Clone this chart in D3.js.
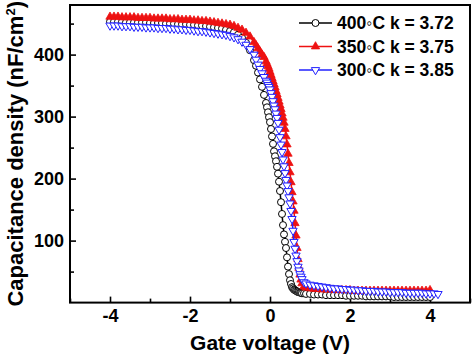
<!DOCTYPE html>
<html>
<head>
<meta charset="utf-8">
<script src="https://cdn.jsdelivr.net/npm/d3@7"></script>
<style>
  body { margin: 0; background: #fff; }
  svg { display: block; font-family: "Liberation Sans", Arial, sans-serif; font-weight: bold; }
</style>
</head>
<body>
<div id="chart"></div>
<script>
// gate voltage grid (V), finer through the transition
var voltage = [-4.0,-3.9,-3.8,-3.7,-3.6,-3.5,-3.4,-3.3,-3.2,-3.1,-3.0,-2.9,-2.8,-2.7,-2.6,-2.5,-2.4,-2.3,-2.2,-2.1,
  -2.0,-1.9,-1.8,-1.7,-1.6,-1.5,-1.4,-1.3,-1.2,-1.1,-1.0,-0.9,-0.8,-0.7,-0.6,-0.5,-0.4,
  -0.35,-0.3,-0.25,-0.2,-0.15,-0.1,
  -0.075,-0.05,-0.025,0,0.025,0.05,0.075,0.1,0.125,0.15,
  0.175,0.2,0.225,0.25,0.275,0.3,0.325,0.35,0.375,0.4,
  0.425,0.45,0.475,0.5,0.525,0.55,0.575,0.6,0.625,0.65,
  0.675,0.7,0.725,0.75,0.775,0.8,0.85,0.9,
  1.0,1.1,1.2,1.3,1.4,1.5,1.6,1.7,1.8,1.9,2.0,2.1,2.2,2.3,2.4,2.5,2.6,2.7,2.8,2.9,3.0,3.1,3.2,3.3,3.4,3.5,3.6,3.7,3.8,3.9,4.0];

// capacitance density (nF/cm2) for each anneal temperature
var cap400 = [453,453,453,453,452,452,452,452,452,452,451,451,451,451,450,450,450,449,449,449,
  448,448,447,447,446,445,444,443,442,440,438,436,432,427,419,407,391,
  382,371,360,348,335,322,
  315,307,299,291,280,268,256,244,236,228,
  219,208,195,180,162,143,125,110,98,88,
  73,58,46,36,30,25,23,21,20,19,
  18,17,17,16,16,15,15,14,
  14,13,13,13,12,12,12,12,12,11,11,11,11,11,10,10,10,10,10,10,10,9,9,9,9,9,9,9,9,9,9];
var cap350 = [461,461,461,460,460,460,460,459,459,459,459,458,458,458,458,457,457,457,456,456,
  456,455,455,454,454,453,452,451,450,449,448,446,443,440,435,429,420,
  415,410,405,400,396,389,
  385,381,377,372,367,362,357,352,347,341,
  336,330,324,318,312,305,298,290,280,268,
  255,240,225,210,194,178,163,148,128,108,
  88,70,56,45,37,31,26,24,
  23,22,22,21,21,21,20,20,20,20,20,19,19,19,19,19,19,19,19,19,19,19,19,19,19,19,19,19,19,19,20];
var cap300 = [447,447,447,446,446,446,445,445,445,444,444,444,443,443,443,442,442,441,441,440,
  440,439,438,438,437,436,435,434,433,432,430,428,425,421,416,409,400,
  392,384,377,370,364,358,
  355,351,348,344,338,332,325,318,312,305,
  298,290,279,267,255,243,231,220,209,198,
  189,180,170,160,148,135,116,98,87,76,
  67,58,52,46,42,38,33,31,
  29,28,27,26,25,24,23,23,22,22,21,21,20,20,19,19,19,18,18,18,17,17,17,17,16,16,16,16,16,15,15];
// the 300 C sweep runs a little further
var voltage300Extra = [4.1, 4.2];
var cap300Extra = [15, 14];

var legendLabels = ["400\u25E6C k = 3.72", "350\u25E6C k = 3.75", "300\u25E6C k = 3.85"];
var xTicks = [-4, -2, 0, 2, 4];
var xMinor = [-5, -3, -1, 1, 3, 5];
var yTicks = [100, 200, 300, 400];
var yMinor = [50, 150, 250, 350, 450];

var svgWidth = 474, svgHeight = 358;
var margin = {top: 5, right: 4, bottom: 55.4, left: 70};
var width = svgWidth - margin.left - margin.right;
var height = svgHeight - margin.top - margin.bottom;

var svg = d3.select("#chart").append("svg")
  .attr("width", svgWidth)
  .attr("height", svgHeight);

var g = svg.append("g")
  .attr("transform", `translate(${margin.left}, ${margin.top})`);

var x = d3.scaleLinear().domain([-5, 5]).range([0, width]);
var y = d3.scaleLinear().domain([0, 480]).range([height, 0]);

// axes, ticks pointing inward
g.append("g")
  .attr("transform", `translate(0, ${height})`)
  .call(d3.axisBottom(x).tickValues(xMinor).tickSize(-4).tickSizeOuter(0).tickFormat(""))
  .call(a => a.select(".domain").remove());
g.append("g")
  .attr("transform", `translate(0, ${height})`)
  .call(d3.axisBottom(x).tickValues(xTicks).tickSize(-6).tickSizeOuter(0).tickPadding(7)
    .tickFormat(d => String(d)))
  .call(a => a.select(".domain").remove());
g.append("g")
  .call(d3.axisLeft(y).tickValues(yMinor).tickSize(-4).tickSizeOuter(0).tickFormat(""))
  .call(a => a.select(".domain").remove());
g.append("g")
  .call(d3.axisLeft(y).tickValues(yTicks).tickSize(-6).tickSizeOuter(0).tickPadding(6))
  .call(a => a.select(".domain").remove());

g.selectAll(".tick line").attr("stroke", "#000").attr("stroke-width", 1.6);
g.selectAll(".tick text")
  .attr("font-family", "Liberation Sans, Arial, sans-serif")
  .attr("font-weight", "bold")
  .attr("font-size", 18)
  .attr("fill", "#000");

// series
var series = [
  {v: voltage, c: cap400, color: "#000000", shape: "circle"},
  {v: voltage, c: cap350, color: "#ee1111", shape: "up"},
  {v: voltage.concat(voltage300Extra), c: cap300.concat(cap300Extra), color: "#2222ff", shape: "down"}
];

var line = d3.line().x(d => x(d[0])).y(d => y(d[1]));
var tri = d3.symbol().type(d3.symbolTriangle).size(30);

function marker(sel, s) {
  if (s.shape === "circle") {
    sel.append("circle").attr("r", 3.5)
      .attr("fill", "#fff").attr("stroke", s.color).attr("stroke-width", 1);
  } else if (s.shape === "up") {
    sel.append("path").attr("d", tri)
      .attr("fill", s.color).attr("stroke", s.color).attr("stroke-width", 0.8);
  } else {
    sel.append("path").attr("d", tri).attr("transform", "rotate(180)")
      .attr("fill", "#fff").attr("stroke", s.color).attr("stroke-width", 1);
  }
}

series.forEach(function(s) {
  var pts = s.v.map((v, i) => [v, s.c[i]]);
  g.append("path")
    .datum(pts)
    .attr("d", line)
    .attr("fill", "none")
    .attr("stroke", s.color)
    .attr("stroke-width", 1.5);
  g.append("g").selectAll("g")
    .data(pts)
    .enter()
    .append("g")
    .attr("transform", d => `translate(${x(d[0])}, ${y(d[1])})`)
    .each(function() { marker(d3.select(this), s); });
});

// frame
g.append("rect")
  .attr("width", width)
  .attr("height", height)
  .attr("fill", "none")
  .attr("stroke", "#000")
  .attr("stroke-width", 2);

// legend
var legend = svg.append("g");
series.forEach(function(s, i) {
  var ly = 23 + i * 23.5;
  legend.append("line")
    .attr("x1", 299).attr("x2", 332).attr("y1", ly).attr("y2", ly)
    .attr("stroke", s.color).attr("stroke-width", 1.5);
  var m = legend.append("g").attr("transform", `translate(315.5, ${ly})`);
  marker(m, s);
  legend.append("text")
    .attr("x", 337).attr("y", ly + 6)
    .attr("font-size", 17.5)
    .text(legendLabels[i]);
});

// axis titles
svg.append("text")
  .attr("x", margin.left + width / 2)
  .attr("y", 350)
  .attr("text-anchor", "middle")
  .attr("font-size", 21)
  .text("Gate voltage (V)");

var yt = svg.append("text")
  .attr("transform", `translate(23, ${margin.top + height / 2}) rotate(-90)`)
  .attr("text-anchor", "middle")
  .attr("font-size", 22);
yt.append("tspan").text("Capacitance density (nF/cm");
yt.append("tspan").attr("font-size", 13).attr("dy", -8).text("2");
yt.append("tspan").attr("dy", 8).text(")");
</script>
</body>
</html>
